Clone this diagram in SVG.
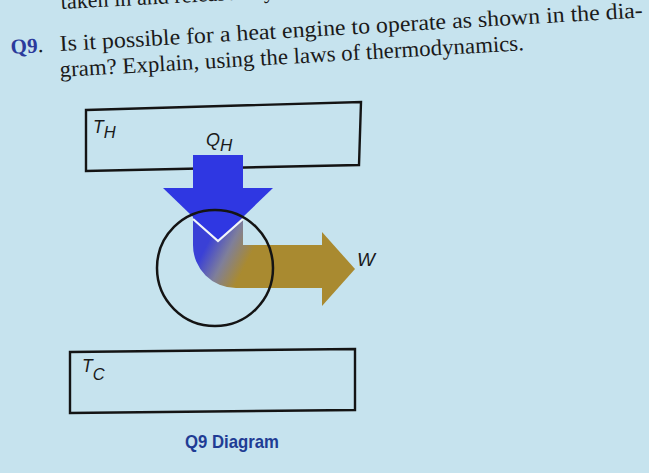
<svg xmlns="http://www.w3.org/2000/svg" width="649" height="473" viewBox="0 0 649 473">
  <style>
    .page { font-family: "Liberation Serif", "Times New Roman", serif; font-size: 22.5px; fill: #1a1a1a; }
    .box { fill: none; stroke: #141414; stroke-width: 2.4; stroke-linejoin: miter; }
    .lbl { font-family: "Liberation Sans", Arial, sans-serif; font-style: italic; fill: #1a1a1a; }
    .cap { font-family: "Liberation Sans", Arial, sans-serif; font-weight: bold; fill: #1f3c94; }
  </style>
  <defs>
    <linearGradient id="flow" gradientUnits="userSpaceOnUse" x1="203" y1="252" x2="242" y2="272">
      <stop offset="0" stop-color="#3a40d6"/>
      <stop offset="0.5" stop-color="#7f7f9a"/>
      <stop offset="1" stop-color="#a98a30"/>
    </linearGradient>
  </defs>

  <rect x="0" y="0" width="649" height="473" fill="#c6e3ee"/>

  <!-- question text -->
  <text class="page" x="61" y="9" transform="rotate(-3 61 9)" textLength="214" lengthAdjust="spacingAndGlyphs">taken in and released by</text>
  <text class="page" x="11" y="51" transform="rotate(-3.3 60 51)"><tspan font-weight="bold" fill="#2b3a9c" font-size="21">Q9</tspan>.</text>
  <text class="page" x="60" y="51" transform="rotate(-3.3 60 51)" textLength="584" lengthAdjust="spacingAndGlyphs">Is it possible for a heat engine to operate as shown in the dia-</text>
  <text class="page" x="60" y="77" transform="rotate(-3.3 60 77)" textLength="465" lengthAdjust="spacingAndGlyphs">gram? Explain, using the laws of thermodynamics.</text>

  <!-- hot reservoir -->
  <g id="hot-reservoir">
    <polygon class="box" points="86,110 361,102 359,165 86,171"/>
    <text class="lbl" x="93" y="133" font-size="17.5">T<tspan font-size="16.5" dy="5">H</tspan></text>
  </g>

  <!-- cold reservoir -->
  <g id="cold-reservoir">
    <polygon class="box" points="70,352 355,349 355,410 70,413"/>
    <text class="lbl" x="82" y="372" font-size="17.5">T<tspan font-size="16.5" dy="8">C</tspan></text>
  </g>

  <!-- connectors / flows -->
  <g id="connectors">
    <path d="M193,190 L243,190 L243,245 L323,245 L323,288 L236,288 A43,43 0 0 1 193,245 Z" fill="url(#flow)"/>
    <polygon points="322,232 355,269 322,306" fill="#a98a30"/>
    <rect x="193" y="155" width="50" height="36" fill="#2f37e2"/>
    <polygon points="163,188 273,188 218,241" fill="#2f37e2"/>
    <polyline points="193,219 218,241 243,219" fill="none" stroke="#f2f6fa" stroke-width="2.2"/>
    <text class="lbl" x="206" y="146" font-size="18">Q<tspan font-size="17" dy="5">H</tspan></text>
    <text class="lbl" x="357" y="266" font-size="19">W</text>
  </g>

  <!-- engine -->
  <g id="engine">
    <circle cx="215" cy="268" r="58" fill="none" stroke="#141414" stroke-width="2.5"/>
  </g>

  <text class="cap" x="185" y="448" font-size="19" textLength="94" lengthAdjust="spacingAndGlyphs">Q9 Diagram</text>
</svg>
